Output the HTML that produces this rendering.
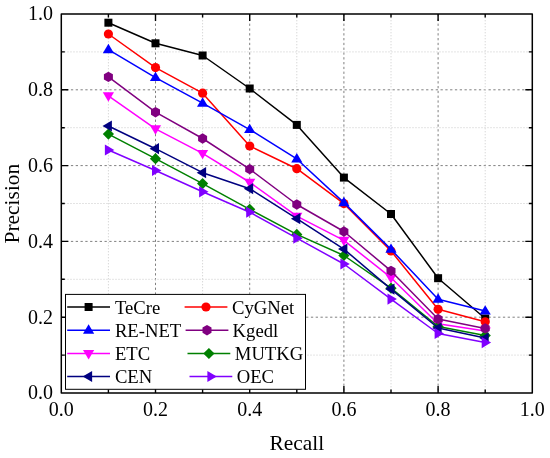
<!DOCTYPE html><html><head><meta charset="utf-8"><title>Precision-Recall</title><style>html,body{margin:0;padding:0;background:#fff}svg{display:block}text{font-family:"Liberation Serif",serif;fill:#000}</style></head><body>
<svg width="550" height="458" viewBox="0 0 550 458">
<rect width="550" height="458" fill="#fff"/>
<line x1="108.40" y1="14.00" x2="108.40" y2="393.00" stroke="#d8d8d8" stroke-width="1" stroke-dasharray="1.4 1.6"/>
<line x1="61.30" y1="355.10" x2="532.30" y2="355.10" stroke="#d8d8d8" stroke-width="1" stroke-dasharray="1.4 1.6"/>
<line x1="155.50" y1="14.00" x2="155.50" y2="393.00" stroke="#808080" stroke-width="1" stroke-dasharray="2.3 2.5"/>
<line x1="61.30" y1="317.20" x2="532.30" y2="317.20" stroke="#808080" stroke-width="1" stroke-dasharray="2.3 2.5"/>
<line x1="202.60" y1="14.00" x2="202.60" y2="393.00" stroke="#d8d8d8" stroke-width="1" stroke-dasharray="1.4 1.6"/>
<line x1="61.30" y1="279.30" x2="532.30" y2="279.30" stroke="#d8d8d8" stroke-width="1" stroke-dasharray="1.4 1.6"/>
<line x1="249.70" y1="14.00" x2="249.70" y2="393.00" stroke="#808080" stroke-width="1" stroke-dasharray="2.3 2.5"/>
<line x1="61.30" y1="241.40" x2="532.30" y2="241.40" stroke="#808080" stroke-width="1" stroke-dasharray="2.3 2.5"/>
<line x1="296.80" y1="14.00" x2="296.80" y2="393.00" stroke="#d8d8d8" stroke-width="1" stroke-dasharray="1.4 1.6"/>
<line x1="61.30" y1="203.50" x2="532.30" y2="203.50" stroke="#d8d8d8" stroke-width="1" stroke-dasharray="1.4 1.6"/>
<line x1="343.90" y1="14.00" x2="343.90" y2="393.00" stroke="#808080" stroke-width="1" stroke-dasharray="2.3 2.5"/>
<line x1="61.30" y1="165.60" x2="532.30" y2="165.60" stroke="#808080" stroke-width="1" stroke-dasharray="2.3 2.5"/>
<line x1="391.00" y1="14.00" x2="391.00" y2="393.00" stroke="#d8d8d8" stroke-width="1" stroke-dasharray="1.4 1.6"/>
<line x1="61.30" y1="127.70" x2="532.30" y2="127.70" stroke="#d8d8d8" stroke-width="1" stroke-dasharray="1.4 1.6"/>
<line x1="438.10" y1="14.00" x2="438.10" y2="393.00" stroke="#808080" stroke-width="1" stroke-dasharray="2.3 2.5"/>
<line x1="61.30" y1="89.80" x2="532.30" y2="89.80" stroke="#808080" stroke-width="1" stroke-dasharray="2.3 2.5"/>
<line x1="485.20" y1="14.00" x2="485.20" y2="393.00" stroke="#d8d8d8" stroke-width="1" stroke-dasharray="1.4 1.6"/>
<line x1="61.30" y1="51.90" x2="532.30" y2="51.90" stroke="#d8d8d8" stroke-width="1" stroke-dasharray="1.4 1.6"/>
<path d="M108.40 393.00v-3.50M108.40 14.00v3.50M61.30 355.10h3.50M532.30 355.10h-3.50" stroke="#000" stroke-width="1.4" fill="none"/>
<path d="M155.50 393.00v-7.00M155.50 14.00v7.00M61.30 317.20h7.00M532.30 317.20h-7.00" stroke="#000" stroke-width="1.4" fill="none"/>
<path d="M202.60 393.00v-3.50M202.60 14.00v3.50M61.30 279.30h3.50M532.30 279.30h-3.50" stroke="#000" stroke-width="1.4" fill="none"/>
<path d="M249.70 393.00v-7.00M249.70 14.00v7.00M61.30 241.40h7.00M532.30 241.40h-7.00" stroke="#000" stroke-width="1.4" fill="none"/>
<path d="M296.80 393.00v-3.50M296.80 14.00v3.50M61.30 203.50h3.50M532.30 203.50h-3.50" stroke="#000" stroke-width="1.4" fill="none"/>
<path d="M343.90 393.00v-7.00M343.90 14.00v7.00M61.30 165.60h7.00M532.30 165.60h-7.00" stroke="#000" stroke-width="1.4" fill="none"/>
<path d="M391.00 393.00v-3.50M391.00 14.00v3.50M61.30 127.70h3.50M532.30 127.70h-3.50" stroke="#000" stroke-width="1.4" fill="none"/>
<path d="M438.10 393.00v-7.00M438.10 14.00v7.00M61.30 89.80h7.00M532.30 89.80h-7.00" stroke="#000" stroke-width="1.4" fill="none"/>
<path d="M485.20 393.00v-3.50M485.20 14.00v3.50M61.30 51.90h3.50M532.30 51.90h-3.50" stroke="#000" stroke-width="1.4" fill="none"/>
<polyline points="108.40,22.70 155.50,43.30 202.60,55.50 249.70,88.50 296.80,124.90 343.90,177.60 391.00,214.00 438.10,278.20 485.20,318.50" fill="none" stroke="#000000" stroke-width="1.5" stroke-linejoin="round"/>
<rect x="104.40" y="18.70" width="8.00" height="8.00" fill="#000000"/>
<rect x="151.50" y="39.30" width="8.00" height="8.00" fill="#000000"/>
<rect x="198.60" y="51.50" width="8.00" height="8.00" fill="#000000"/>
<rect x="245.70" y="84.50" width="8.00" height="8.00" fill="#000000"/>
<rect x="292.80" y="120.90" width="8.00" height="8.00" fill="#000000"/>
<rect x="339.90" y="173.60" width="8.00" height="8.00" fill="#000000"/>
<rect x="387.00" y="210.00" width="8.00" height="8.00" fill="#000000"/>
<rect x="434.10" y="274.20" width="8.00" height="8.00" fill="#000000"/>
<rect x="481.20" y="314.50" width="8.00" height="8.00" fill="#000000"/>
<polyline points="108.40,34.00 155.50,67.60 202.60,93.20 249.70,146.00 296.80,168.70 343.90,203.60 391.00,251.00 438.10,309.30 485.20,321.80" fill="none" stroke="#ff0000" stroke-width="1.5" stroke-linejoin="round"/>
<circle cx="108.40" cy="34.00" r="4.6" fill="#ff0000"/>
<circle cx="155.50" cy="67.60" r="4.6" fill="#ff0000"/>
<circle cx="202.60" cy="93.20" r="4.6" fill="#ff0000"/>
<circle cx="249.70" cy="146.00" r="4.6" fill="#ff0000"/>
<circle cx="296.80" cy="168.70" r="4.6" fill="#ff0000"/>
<circle cx="343.90" cy="203.60" r="4.6" fill="#ff0000"/>
<circle cx="391.00" cy="251.00" r="4.6" fill="#ff0000"/>
<circle cx="438.10" cy="309.30" r="4.6" fill="#ff0000"/>
<circle cx="485.20" cy="321.80" r="4.6" fill="#ff0000"/>
<polyline points="108.40,49.65 155.50,77.55 202.60,103.20 249.70,129.55 296.80,158.95 343.90,202.65 391.00,249.35 438.10,299.20 485.20,311.05" fill="none" stroke="#0000ff" stroke-width="1.5" stroke-linejoin="round"/>
<polygon points="108.40,43.75 114.00,53.15 102.80,53.15" fill="#0000ff"/>
<polygon points="155.50,71.65 161.10,81.05 149.90,81.05" fill="#0000ff"/>
<polygon points="202.60,97.30 208.20,106.70 197.00,106.70" fill="#0000ff"/>
<polygon points="249.70,123.65 255.30,133.05 244.10,133.05" fill="#0000ff"/>
<polygon points="296.80,153.05 302.40,162.45 291.20,162.45" fill="#0000ff"/>
<polygon points="343.90,196.75 349.50,206.15 338.30,206.15" fill="#0000ff"/>
<polygon points="391.00,243.45 396.60,252.85 385.40,252.85" fill="#0000ff"/>
<polygon points="438.10,293.30 443.70,302.70 432.50,302.70" fill="#0000ff"/>
<polygon points="485.20,305.15 490.80,314.55 479.60,314.55" fill="#0000ff"/>
<polyline points="108.40,95.80 155.50,128.80 202.60,153.45 249.70,182.25 296.80,216.20 343.90,240.35 391.00,277.70 438.10,323.70 485.20,331.00" fill="none" stroke="#ff00ff" stroke-width="1.5" stroke-linejoin="round"/>
<polygon points="108.40,101.70 114.00,92.30 102.80,92.30" fill="#ff00ff"/>
<polygon points="155.50,134.70 161.10,125.30 149.90,125.30" fill="#ff00ff"/>
<polygon points="202.60,159.35 208.20,149.95 197.00,149.95" fill="#ff00ff"/>
<polygon points="249.70,188.15 255.30,178.75 244.10,178.75" fill="#ff00ff"/>
<polygon points="296.80,222.10 302.40,212.70 291.20,212.70" fill="#ff00ff"/>
<polygon points="343.90,246.25 349.50,236.85 338.30,236.85" fill="#ff00ff"/>
<polygon points="391.00,283.60 396.60,274.20 385.40,274.20" fill="#ff00ff"/>
<polygon points="438.10,329.60 443.70,320.20 432.50,320.20" fill="#ff00ff"/>
<polygon points="485.20,336.90 490.80,327.50 479.60,327.50" fill="#ff00ff"/>
<polyline points="108.40,134.10 155.50,158.70 202.60,183.60 249.70,209.30 296.80,234.40 343.90,255.50 391.00,288.20 438.10,326.50 485.20,335.50" fill="none" stroke="#008000" stroke-width="1.5" stroke-linejoin="round"/>
<polygon points="108.40,128.50 114.00,134.10 108.40,139.70 102.80,134.10" fill="#008000"/>
<polygon points="155.50,153.10 161.10,158.70 155.50,164.30 149.90,158.70" fill="#008000"/>
<polygon points="202.60,178.00 208.20,183.60 202.60,189.20 197.00,183.60" fill="#008000"/>
<polygon points="249.70,203.70 255.30,209.30 249.70,214.90 244.10,209.30" fill="#008000"/>
<polygon points="296.80,228.80 302.40,234.40 296.80,240.00 291.20,234.40" fill="#008000"/>
<polygon points="343.90,249.90 349.50,255.50 343.90,261.10 338.30,255.50" fill="#008000"/>
<polygon points="391.00,282.60 396.60,288.20 391.00,293.80 385.40,288.20" fill="#008000"/>
<polygon points="438.10,320.90 443.70,326.50 438.10,332.10 432.50,326.50" fill="#008000"/>
<polygon points="485.20,329.90 490.80,335.50 485.20,341.10 479.60,335.50" fill="#008000"/>
<polyline points="108.40,126.00 155.50,148.70 202.60,172.70 249.70,188.70 296.80,218.70 343.90,249.10 391.00,289.10 438.10,328.00 485.20,338.00" fill="none" stroke="#000080" stroke-width="1.5" stroke-linejoin="round"/>
<polygon points="102.50,126.00 111.90,120.40 111.90,131.60" fill="#000080"/>
<polygon points="149.60,148.70 159.00,143.10 159.00,154.30" fill="#000080"/>
<polygon points="196.70,172.70 206.10,167.10 206.10,178.30" fill="#000080"/>
<polygon points="243.80,188.70 253.20,183.10 253.20,194.30" fill="#000080"/>
<polygon points="290.90,218.70 300.30,213.10 300.30,224.30" fill="#000080"/>
<polygon points="338.00,249.10 347.40,243.50 347.40,254.70" fill="#000080"/>
<polygon points="385.10,289.10 394.50,283.50 394.50,294.70" fill="#000080"/>
<polygon points="432.20,328.00 441.60,322.40 441.60,333.60" fill="#000080"/>
<polygon points="479.30,338.00 488.70,332.40 488.70,343.60" fill="#000080"/>
<polyline points="108.40,150.00 155.50,170.50 202.60,191.80 249.70,212.20 296.80,238.20 343.90,264.00 391.00,299.10 438.10,333.50 485.20,342.60" fill="none" stroke="#8000ff" stroke-width="1.5" stroke-linejoin="round"/>
<polygon points="114.30,150.00 104.90,144.40 104.90,155.60" fill="#8000ff"/>
<polygon points="161.40,170.50 152.00,164.90 152.00,176.10" fill="#8000ff"/>
<polygon points="208.50,191.80 199.10,186.20 199.10,197.40" fill="#8000ff"/>
<polygon points="255.60,212.20 246.20,206.60 246.20,217.80" fill="#8000ff"/>
<polygon points="302.70,238.20 293.30,232.60 293.30,243.80" fill="#8000ff"/>
<polygon points="349.80,264.00 340.40,258.40 340.40,269.60" fill="#8000ff"/>
<polygon points="396.90,299.10 387.50,293.50 387.50,304.70" fill="#8000ff"/>
<polygon points="444.00,333.50 434.60,327.90 434.60,339.10" fill="#8000ff"/>
<polygon points="491.10,342.60 481.70,337.00 481.70,348.20" fill="#8000ff"/>
<polyline points="108.40,76.90 155.50,112.20 202.60,138.50 249.70,169.10 296.80,204.50 343.90,231.50 391.00,270.90 438.10,319.00 485.20,328.40" fill="none" stroke="#800080" stroke-width="1.5" stroke-linejoin="round"/>
<polygon points="108.40,71.70 112.90,74.30 112.90,79.50 108.40,82.10 103.90,79.50 103.90,74.30" fill="#800080"/>
<polygon points="155.50,107.00 160.00,109.60 160.00,114.80 155.50,117.40 151.00,114.80 151.00,109.60" fill="#800080"/>
<polygon points="202.60,133.30 207.10,135.90 207.10,141.10 202.60,143.70 198.10,141.10 198.10,135.90" fill="#800080"/>
<polygon points="249.70,163.90 254.20,166.50 254.20,171.70 249.70,174.30 245.20,171.70 245.20,166.50" fill="#800080"/>
<polygon points="296.80,199.30 301.30,201.90 301.30,207.10 296.80,209.70 292.30,207.10 292.30,201.90" fill="#800080"/>
<polygon points="343.90,226.30 348.40,228.90 348.40,234.10 343.90,236.70 339.40,234.10 339.40,228.90" fill="#800080"/>
<polygon points="391.00,265.70 395.50,268.30 395.50,273.50 391.00,276.10 386.50,273.50 386.50,268.30" fill="#800080"/>
<polygon points="438.10,313.80 442.60,316.40 442.60,321.60 438.10,324.20 433.60,321.60 433.60,316.40" fill="#800080"/>
<polygon points="485.20,323.20 489.70,325.80 489.70,331.00 485.20,333.60 480.70,331.00 480.70,325.80" fill="#800080"/>
<rect x="61.30" y="14.00" width="471.00" height="379.00" fill="none" stroke="#000" stroke-width="1.5" stroke-linejoin="round"/>
<text x="61.30" y="416.4" font-size="20" text-anchor="middle">0.0</text>
<text x="52.9" y="399.45" font-size="20" text-anchor="end">0.0</text>
<text x="155.50" y="416.4" font-size="20" text-anchor="middle">0.2</text>
<text x="52.9" y="323.65" font-size="20" text-anchor="end">0.2</text>
<text x="249.70" y="416.4" font-size="20" text-anchor="middle">0.4</text>
<text x="52.9" y="247.85" font-size="20" text-anchor="end">0.4</text>
<text x="343.90" y="416.4" font-size="20" text-anchor="middle">0.6</text>
<text x="52.9" y="172.05" font-size="20" text-anchor="end">0.6</text>
<text x="438.10" y="416.4" font-size="20" text-anchor="middle">0.8</text>
<text x="52.9" y="96.25" font-size="20" text-anchor="end">0.8</text>
<text x="532.30" y="416.4" font-size="20" text-anchor="middle">1.0</text>
<text x="52.9" y="20.45" font-size="20" text-anchor="end">1.0</text>
<text x="296.8" y="450.3" font-size="21.4" text-anchor="middle">Recall</text>
<text transform="translate(18.7 203.6) rotate(-90)" font-size="21.4" text-anchor="middle">Precision</text>
<rect x="65.5" y="294.4" width="240" height="94.9" fill="#fff" stroke="#000" stroke-width="1"/>
<line x1="67.20" y1="307.00" x2="110.00" y2="307.00" stroke="#000000" stroke-width="1.5"/>
<rect x="84.60" y="303.00" width="8.00" height="8.00" fill="#000000"/>
<text x="114.90" y="313.55" font-size="18.67">TeCre</text>
<line x1="67.20" y1="330.20" x2="110.00" y2="330.20" stroke="#0000ff" stroke-width="1.5"/>
<polygon points="88.60,324.30 94.20,333.70 83.00,333.70" fill="#0000ff"/>
<text x="114.90" y="336.60" font-size="18.67">RE-NET</text>
<line x1="67.20" y1="353.50" x2="110.00" y2="353.50" stroke="#ff00ff" stroke-width="1.5"/>
<polygon points="88.60,359.40 94.20,350.00 83.00,350.00" fill="#ff00ff"/>
<text x="114.90" y="360.20" font-size="18.67">ETC</text>
<line x1="67.20" y1="376.50" x2="110.00" y2="376.50" stroke="#000080" stroke-width="1.5"/>
<polygon points="82.70,376.50 92.10,370.90 92.10,382.10" fill="#000080"/>
<text x="114.90" y="382.50" font-size="18.67">CEN</text>
<line x1="184.60" y1="307.00" x2="227.40" y2="307.00" stroke="#ff0000" stroke-width="1.5"/>
<circle cx="206.00" cy="307.00" r="4.6" fill="#ff0000"/>
<text x="232.00" y="313.55" font-size="18.67">CyGNet</text>
<line x1="185.60" y1="330.20" x2="228.40" y2="330.20" stroke="#800080" stroke-width="1.5"/>
<polygon points="207.00,325.00 211.50,327.60 211.50,332.80 207.00,335.40 202.50,332.80 202.50,327.60" fill="#800080"/>
<text x="232.60" y="336.60" font-size="18.67">Kgedl</text>
<line x1="187.50" y1="353.50" x2="230.30" y2="353.50" stroke="#008000" stroke-width="1.5"/>
<polygon points="208.90,347.90 214.50,353.50 208.90,359.10 203.30,353.50" fill="#008000"/>
<text x="234.80" y="360.20" font-size="18.67">MUTKG</text>
<line x1="189.50" y1="376.50" x2="232.30" y2="376.50" stroke="#8000ff" stroke-width="1.5"/>
<polygon points="216.80,376.50 207.40,370.90 207.40,382.10" fill="#8000ff"/>
<text x="236.70" y="382.50" font-size="18.67">OEC</text>
</svg></body></html>
